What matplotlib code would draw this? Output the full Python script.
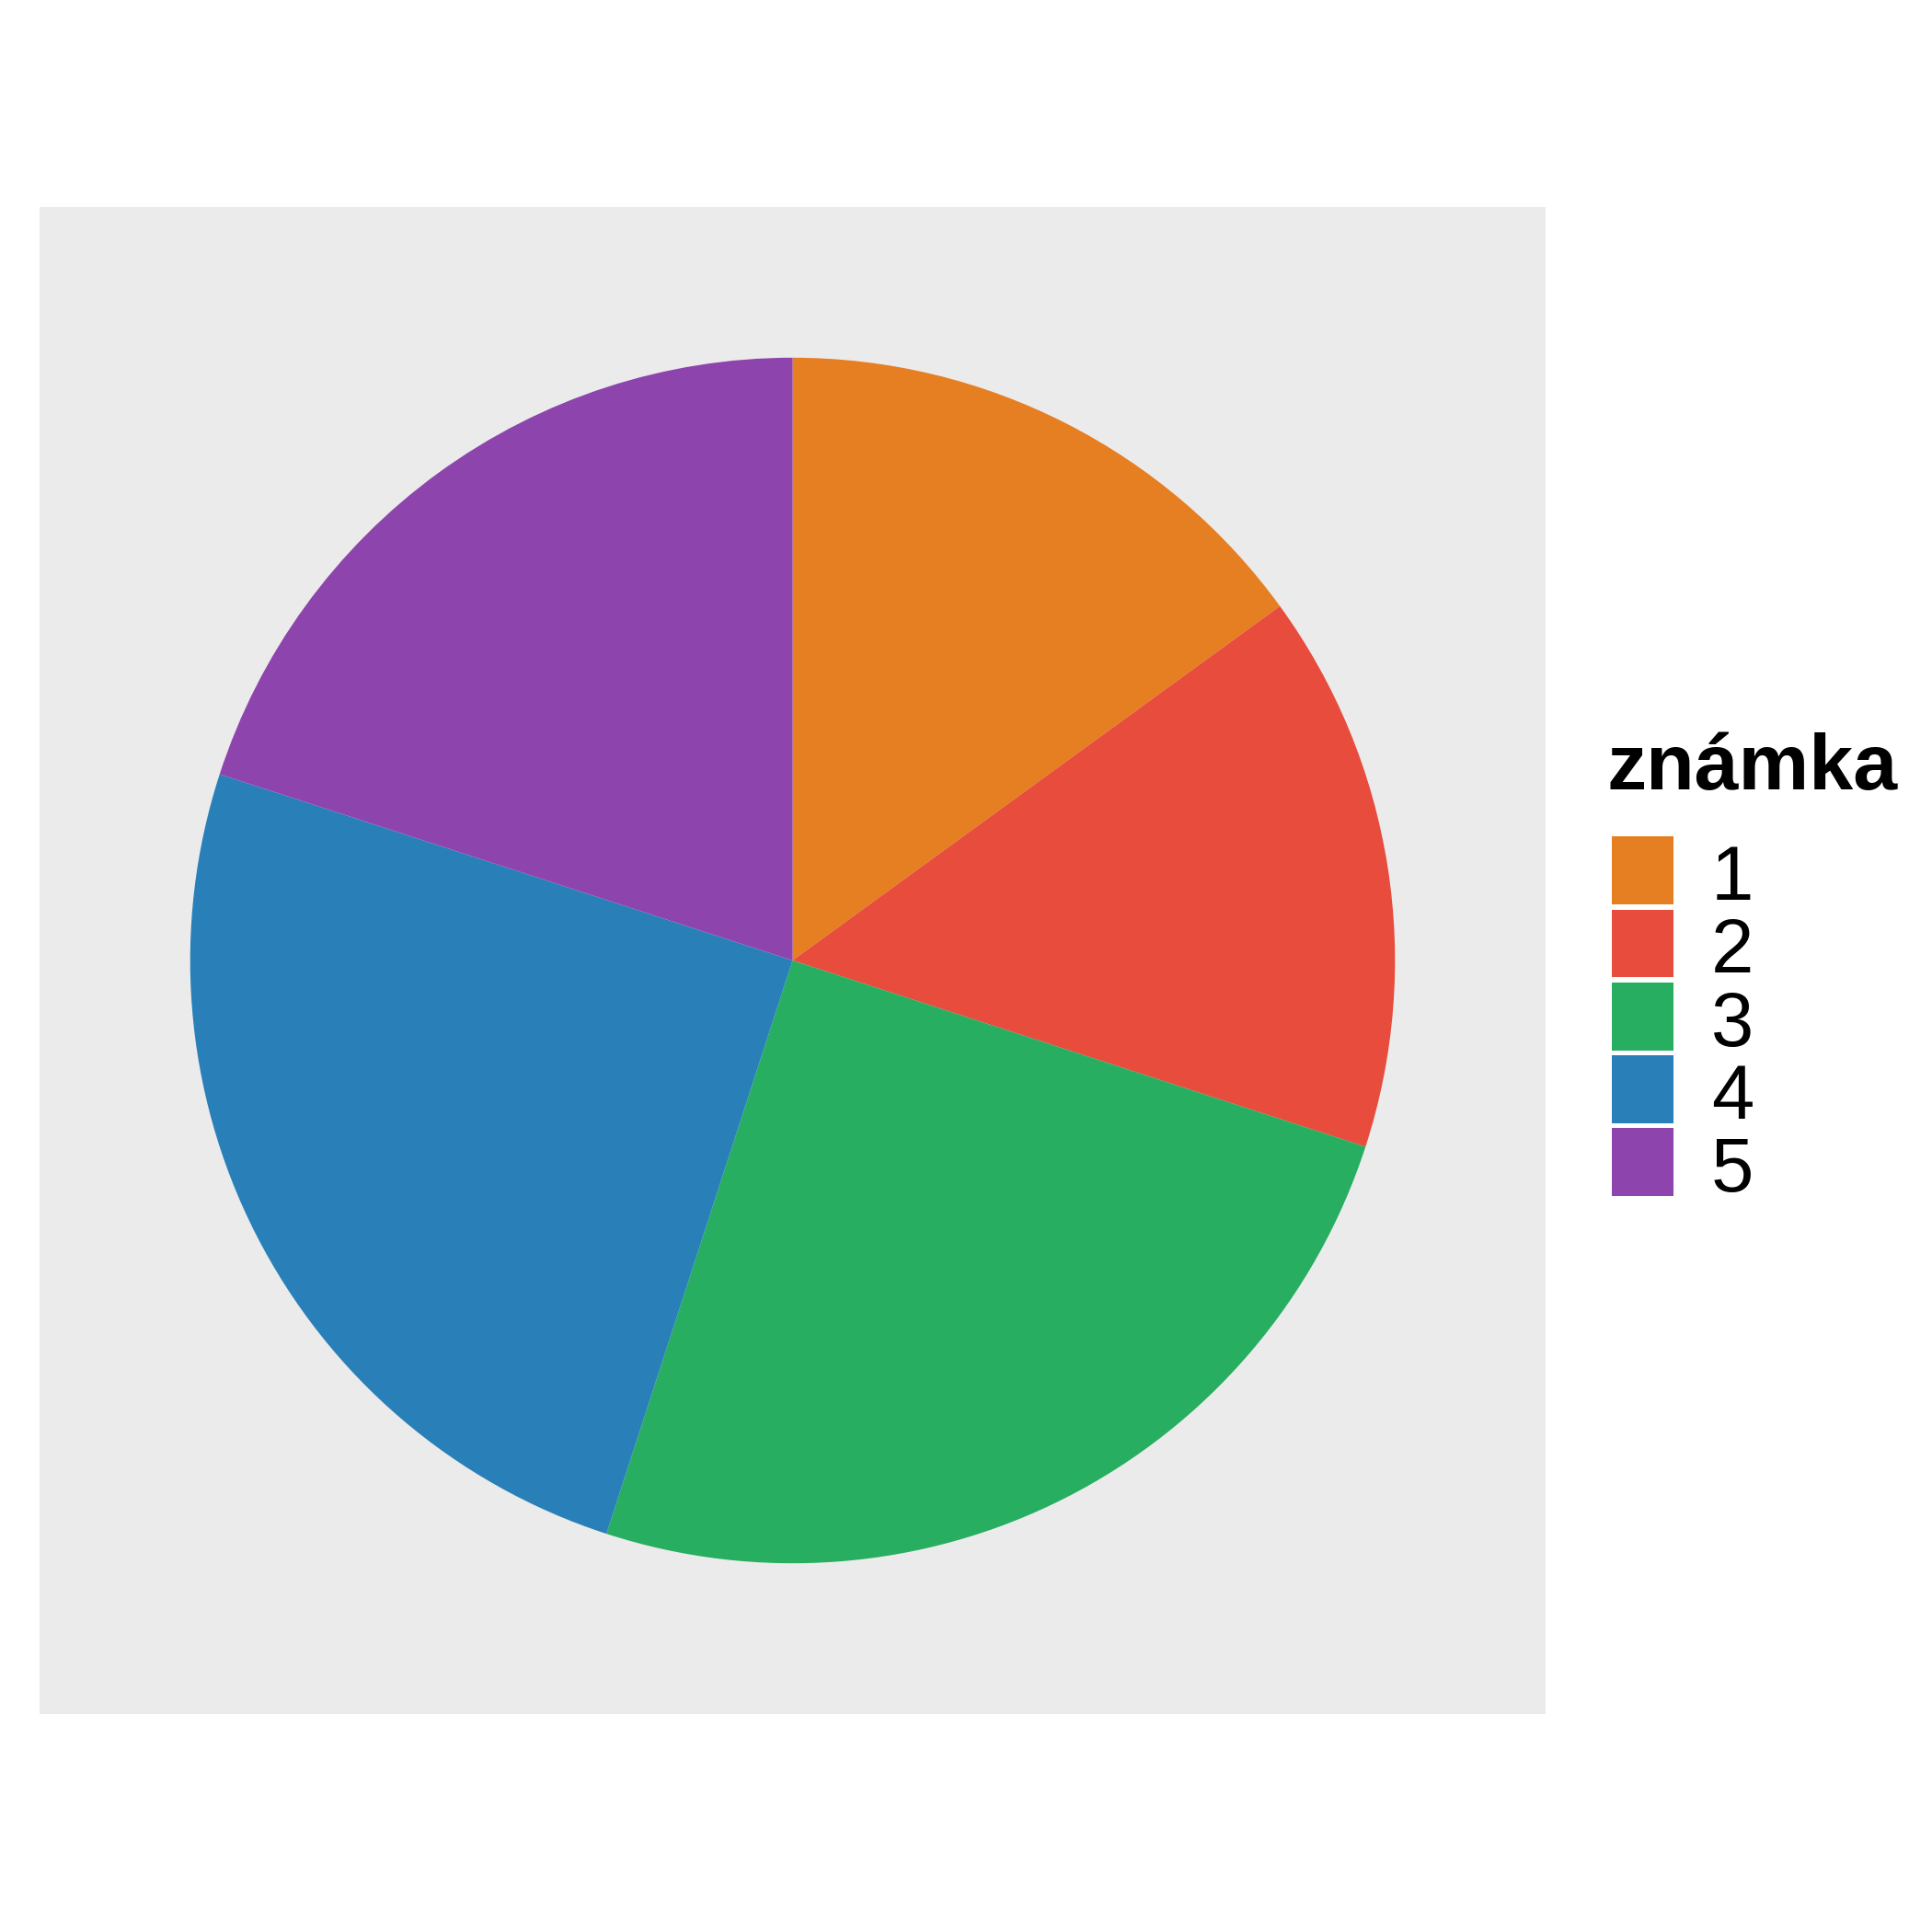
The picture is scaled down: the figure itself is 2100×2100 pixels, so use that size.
import matplotlib
matplotlib.use("Agg")
import matplotlib.pyplot as plt
from matplotlib.patches import Rectangle

plt.rcParams['font.family'] = ['Liberation Sans', 'DejaVu Sans']

# Data
grades = ["1", "2", "3", "4", "5"]
counts = [3, 3, 5, 5, 4]
colors = ["#E67E22", "#E74C3C", "#27AE60", "#2980B9", "#8E44AD"]
legend_title = "známka"

W = H = 2100
fig = plt.figure(figsize=(21, 21), dpi=100)
fig.patch.set_facecolor("white")

ax = fig.add_axes([43 / W, 1 - 1863 / H, 1637 / W, 1638 / H])
ax.set_facecolor("#EBEBEB")
ax.pie(counts, colors=colors, startangle=90, counterclock=False,
       radius=0.8, center=(0, 0), frame=True, wedgeprops=dict(linewidth=0))
ax.set_xlim(-1, 1)
ax.set_ylim(-1, 1)
ax.set_aspect("auto")
ax.set_xticks([])
ax.set_yticks([])
for s in ax.spines.values():
    s.set_visible(False)

# Legend (manual, ggplot-style)
fig.text(1747 / W, 1 - 858 / H, legend_title, fontsize=62, fontweight="bold",
         ha="left", va="baseline")
key_x0, key_x1 = 1752, 1818.5
key_top0, key_pitch, key_h = 909.3, 79.2, 73.8
for i, (g, c) in enumerate(zip(grades, colors)):
    top = key_top0 + i * key_pitch
    fig.add_artist(Rectangle((key_x0 / W, 1 - (top + key_h) / H),
                             (key_x1 - key_x0) / W, key_h / H,
                             transform=fig.transFigure, facecolor=c,
                             edgecolor="none"))
    cy = top + key_h / 2
    fig.text(1860 / W, 1 - (cy + 32) / H, g, fontsize=60,
             ha="left", va="baseline")

fig.savefig("out.png", dpi=100, facecolor="white")
